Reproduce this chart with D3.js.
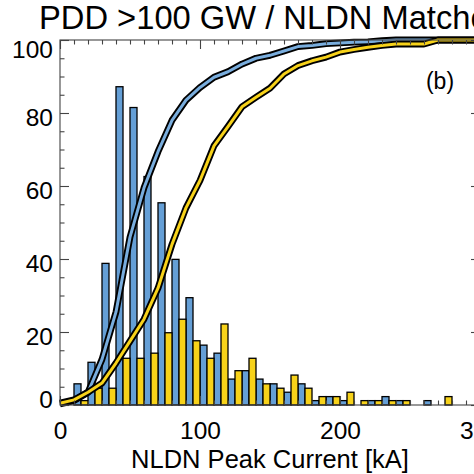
<!DOCTYPE html>
<html>
<head>
<meta charset="utf-8">
<script src="https://cdn.jsdelivr.net/npm/d3@7"></script>
<style>
  html, body { margin: 0; padding: 0; background: #fff; }
  svg { display: block; font-family: "Liberation Sans", Arial, Helvetica, sans-serif; }
</style>
</head>
<body>
<div id="chart"></div>
<script>
// histogram bins (left edge, kA); blue = PDD, yellow = NLDN
const binStart  = [10, 20, 30, 40, 50, 60, 70, 80, 90, 100, 110, 120, 130, 140, 150,
                   160, 170, 180, 190, 200, 210, 220, 230, 240, 250, 260, 270, 280, 290];
const blueHist   = [5.8, 11.7, 38.8, 87.2, 81.5, 62.6, 55.4, 39.9, 29.4, 16.4, 14.2, 7.1, 9.4, 7.1, 5.8,
                    3.5, 5.8, 1.2, 2.3, 1.2, 0, 1.2, 2.3, 1.2, 0, 1.2, 0, 0, 0];
const yellowHist = [1.2, 4.6, 4.6, 12.8, 12.8, 14.2, 19.8, 23.5, 17.6, 12.8, 22.2, 9.4, 12.8, 5.8, 4.6,
                    8.2, 4.6, 2.3, 2.3, 3.5, 1.2, 1.2, 1.2, 1.2, 0, 0, 2.3, 0, 0];

// cumulative curves (percent), sampled every 10 kA
const cdfX      = [0, 10, 20, 30, 40, 50, 60, 70, 80, 90, 100, 110, 120, 130, 140, 150,
                   160, 170, 180, 190, 200, 210, 220, 230, 240, 250, 260, 270, 280, 290, 300];
const blueCdf   = [0.3, 1.2, 3.5, 12.5, 25.5, 46, 59.5, 69.4, 78, 83.5, 87, 89.8, 91.3, 93.4, 95, 95.8,
                   97, 98.2, 98.5, 99, 99.2, 99.4, 99.5, 99.8, 100, 100, 100, 100, 100, 100, 100];
const yellowCdf = [0.5, 1.4, 3.5, 6, 11.5, 17.5, 23.5, 32, 44, 54, 61.5, 71, 76.3, 81.7, 84.3, 86.8,
                   90.7, 93, 94.3, 95.3, 96.7, 97.4, 98, 98.5, 98.9, 98.9, 98.9, 100, 100, 100, 100];

const xMajor = [0, 100, 200, 300];
const yMajor = [0, 20, 40, 60, 80, 100];

const BLUE = '#659fd6', YELLOW = '#f7d21a', AXIS = '#444';

const W = 474, H = 474;
const svg = d3.select('#chart').append('svg').attr('width', W).attr('height', H);

const xs = d3.scaleLinear().domain([0, 300]).range([60, 480]);
const ys = d3.scaleLinear().domain([0, 100]).range([405, 40]);

// bars
const barW = xs(5) - xs(0);
const bars = svg.append('g').attr('stroke', '#000').attr('stroke-width', 1.3);
bars.selectAll('rect.b')
  .data(binStart.map((k, i) => ({ k, v: blueHist[i] })).filter(d => d.v > 0))
  .join('rect')
  .attr('class', 'b')
  .attr('x', d => xs(d.k)).attr('width', barW)
  .attr('y', d => ys(d.v)).attr('height', d => ys(0) - ys(d.v))
  .attr('fill', BLUE);
bars.selectAll('rect.y')
  .data(binStart.map((k, i) => ({ k, v: yellowHist[i] })).filter(d => d.v > 0))
  .join('rect')
  .attr('class', 'y')
  .attr('x', d => xs(d.k + 5)).attr('width', barW)
  .attr('y', d => ys(d.v)).attr('height', d => ys(0) - ys(d.v))
  .attr('fill', YELLOW);

// cumulative lines: black casing + coloured core
const line = d3.line().x((d, i) => xs(cdfX[i])).y(d => ys(d));
[[blueCdf, '#79addd'], [yellowCdf, YELLOW]].forEach(([data, col]) => {
  svg.append('path').datum(data).attr('d', line)
    .attr('fill', 'none').attr('stroke', '#000').attr('stroke-width', 6.8)
    .attr('stroke-linejoin', 'round');
  svg.append('path').datum(data).attr('d', line)
    .attr('fill', 'none').attr('stroke', col).attr('stroke-width', 3)
    .attr('stroke-linejoin', 'round');
});

// axes (ticks pointing inward, IDL style)
function styleAxis(g) {
  g.select('.domain').remove();
  g.selectAll('line').attr('stroke', AXIS).attr('stroke-width', 1.1);
  g.selectAll('text').attr('fill', '#000').attr('font-size', 24.5);
}
const xMinor = d3.range(0, 301, 10).filter(v => v % 100);
const yMinor = d3.range(0, 101, 5).filter(v => v % 20);

svg.append('g').attr('transform', `translate(0,${ys(0)})`)
  .call(d3.axisBottom(xs).tickValues(xMinor).tickSize(-4.5).tickFormat('')).call(styleAxis);
svg.append('g').attr('transform', `translate(0,${ys(0)})`)
  .call(d3.axisBottom(xs).tickValues(xMajor).tickSize(-9).tickPadding(17).tickFormat(d3.format('d')))
  .call(styleAxis);
svg.append('g').attr('transform', `translate(0,${ys(100)})`)
  .call(d3.axisTop(xs).tickValues(xMinor).tickSize(-4.5).tickFormat('')).call(styleAxis);
svg.append('g').attr('transform', `translate(0,${ys(100)})`)
  .call(d3.axisTop(xs).tickValues(xMajor).tickSize(-9).tickFormat('')).call(styleAxis);

svg.append('g').attr('transform', `translate(${xs(0)},0)`)
  .call(d3.axisLeft(ys).tickValues(yMinor).tickSize(-4.5).tickFormat('')).call(styleAxis);
svg.append('g').attr('transform', `translate(${xs(0)},0)`)
  .call(d3.axisLeft(ys).tickValues(yMajor).tickSize(-9).tickPadding(7).tickFormat(d3.format('d')))
  .call(styleAxis)
  .call(g => g.selectAll('text').attr('dy', d => d === 100 ? 17 : d === 0 ? 2 : 12));
svg.append('g').attr('transform', `translate(${xs(300)},0)`)
  .call(d3.axisRight(ys).tickValues(yMinor).tickSize(-4.5).tickFormat('')).call(styleAxis);
svg.append('g').attr('transform', `translate(${xs(300)},0)`)
  .call(d3.axisRight(ys).tickValues(yMajor).tickSize(-9).tickFormat('')).call(styleAxis);

// frame
svg.append('rect')
  .attr('x', xs(0)).attr('y', ys(100))
  .attr('width', xs(300) - xs(0)).attr('height', ys(0) - ys(100))
  .attr('fill', 'none').attr('stroke', AXIS).attr('stroke-width', 1.1);

// texts
svg.append('text').attr('x', 272).attr('y', 29)
  .attr('text-anchor', 'middle').attr('font-size', 32.7)
  .text('PDD >100 GW / NLDN Matches');
svg.append('text').attr('x', 270).attr('y', 468)
  .attr('text-anchor', 'middle').attr('font-size', 25.5)
  .text('NLDN Peak Current [kA]');
svg.append('text').attr('x', 440).attr('y', 89)
  .attr('text-anchor', 'middle').attr('font-size', 23)
  .text('(b)');
</script>
</body>
</html>
